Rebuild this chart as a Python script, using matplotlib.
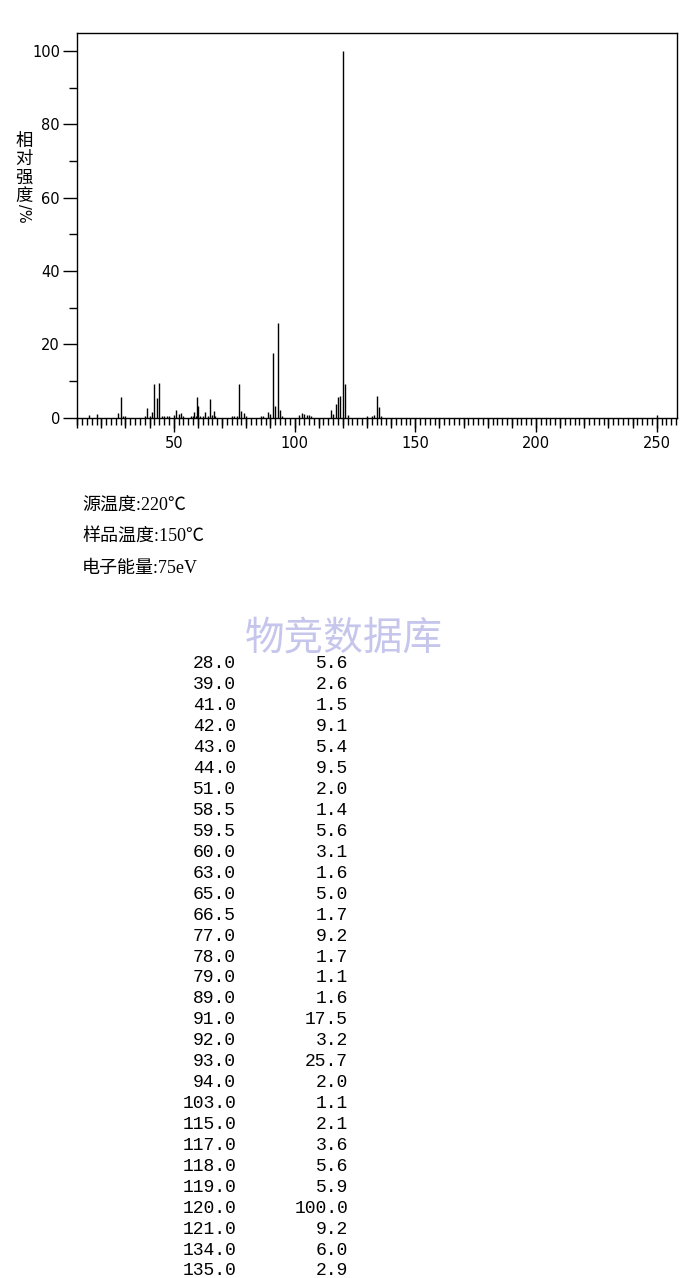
import matplotlib
matplotlib.use('Agg')
import matplotlib.pyplot as plt
from matplotlib.ticker import MultipleLocator

# peaks listed in the table (m/z, relative intensity %)
mz_table = [28.0, 39.0, 41.0, 42.0, 43.0, 44.0, 51.0, 58.5, 59.5, 60.0,
            63.0, 65.0, 66.5, 77.0, 78.0, 79.0, 89.0, 91.0, 92.0, 93.0,
            94.0, 103.0, 115.0, 117.0, 118.0, 119.0, 120.0, 121.0, 134.0, 135.0]
int_table = [5.6, 2.6, 1.5, 9.1, 5.4, 9.5, 2.0, 1.4, 5.6, 3.1,
             1.6, 5.0, 1.7, 9.2, 1.7, 1.1, 1.6, 17.5, 3.2, 25.7,
             2.0, 1.1, 2.1, 3.6, 5.6, 5.9, 100.0, 9.2, 6.0, 2.9]

# small peaks only visible in the spectrum (estimated)
mz_minor = [15, 18, 27, 29, 30, 38, 40, 45, 46, 47, 48, 50, 52, 53, 54,
            57, 58, 59, 61, 62, 64, 66, 67, 74, 75, 76, 80, 86, 87, 90,
            95, 102, 104, 105, 106, 107, 116, 122, 130, 132, 133, 136, 250]
int_minor = [0.7, 1.0, 1.1, 0.4, 0.4, 0.4, 0.5, 0.4, 0.4, 0.5, 0.3, 0.7, 1.0, 1.1, 0.4,
             0.4, 0.4, 0.4, 0.4, 0.4, 0.5, 0.6, 0.5, 0.4, 0.4, 0.4, 0.3, 0.3, 0.3, 1.0,
             0.4, 0.6, 1.0, 0.7, 0.7, 0.3, 1.0, 0.7, 0.3, 0.3, 0.7, 0.3, 0.6]

info_lines = ['源温度:220℃', '样品温度:150℃', '电子能量:75eV']
watermark = '物竞数据库'

W, H = 687, 1278
fig = plt.figure(figsize=(W / 100, H / 100), dpi=100)


def fx(px):
    return px / W


def fy(py):
    return 1 - py / H


# --- spectrum axes ---
ax = fig.add_axes([fx(76.7), fy(417.5), fx(677) - fx(76.7), fy(33) - fy(417.5)])
ax.vlines(mz_table + mz_minor, 0, int_table + int_minor, color='black', linewidth=1)
ax.set_xlim(9.8, 258.4)
ax.set_ylim(0, 104.9)

for s in ax.spines.values():
    s.set_linewidth(1)
    s.set_color('black')

ax.xaxis.set_major_locator(MultipleLocator(50))
ax.xaxis.set_minor_locator(MultipleLocator(2))
ax.yaxis.set_major_locator(MultipleLocator(20))
ax.yaxis.set_minor_locator(MultipleLocator(10))
ax.tick_params(axis='x', which='major', length=10, width=1, labelsize=10.5, pad=3)
ax.tick_params(axis='x', which='minor', length=5, width=1)
ax.tick_params(axis='y', which='major', length=10, width=1, labelsize=10.5, pad=2)
ax.tick_params(axis='y', which='minor', length=6, width=1)
ax.tick_params(top=False, right=False, which='both')

# medium ticks every 10
sec = ax.secondary_xaxis('bottom')
sec.set_xticks(range(10, 260, 10))
sec.tick_params(length=7, width=1, labelbottom=False)
sec.spines['bottom'].set_visible(False)

# vertical y label
for i, ch in enumerate('相对强度'):
    fig.text(fx(24), fy(141 + i * 18.3), ch, fontsize=12.5, family='Noto Sans CJK SC',
             ha='center', va='center')
fig.text(fx(24), fy(213), '/%', fontsize=10.5, family='DejaVu Sans', rotation=-90,
         ha='center', va='center')

# --- info lines ---
for i, line in enumerate(info_lines):
    fig.text(fx(82), fy(505 + i * 31.5), line, fontsize=13,
             family=['Liberation Serif', 'Noto Sans CJK SC'], ha='left', va='center')

# --- watermark ---
fig.text(fx(344), fy(638), watermark, fontsize=28.5, family='Noto Sans CJK SC',
         color='#c6c6ec', ha='center', va='center')

# --- peak table ---
for i, (m, v) in enumerate(zip(mz_table, int_table)):
    y = fy(664 + i * 20.93)
    fig.text(fx(236), y, f'{m:.1f}', fontsize=13, family='Liberation Mono',
             ha='right', va='center')
    fig.text(fx(348), y, f'{v:.1f}', fontsize=13, family='Liberation Mono',
             ha='right', va='center')

fig.savefig('out.png', dpi=100, facecolor='white')
